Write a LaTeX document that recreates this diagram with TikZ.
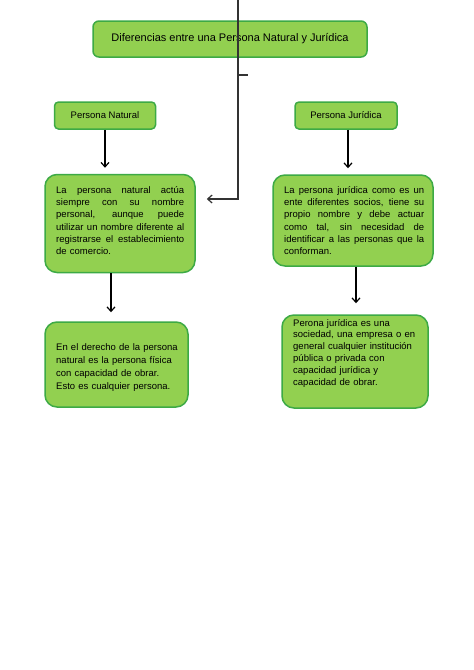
\documentclass[tikz,border=0pt]{standalone}
\usepackage{fontspec}
\setmainfont{Liberation Sans}
\usetikzlibrary{arrows.meta,calc}
\definecolor{boxfill}{HTML}{92D050}
\definecolor{boxline}{HTML}{3DAA45}
\definecolor{linegray}{HTML}{333333}
\newcommand{\jline}[2]{\leavevmode\hbox to #1{\spaceskip=0.278em plus 1fil\relax #2}}
\tikzset{
  box/.style={draw=boxline, fill=boxfill, line width=1.5pt, inner sep=0pt},
  bigbox/.style={box, rounded corners=12pt},
  smallbox/.style={box, rounded corners=4pt},
  txt/.style={inner sep=0pt, anchor=base west, align=left, text=black, font=\fontsize{9.5}{12.2}\selectfont},
  arr/.style={draw=black, line width=1.2pt, -{Straight Barb[length=4.5pt,width=8pt]}},
}
\begin{document}
\begin{tikzpicture}[x=1pt,y=-1pt]
\useasboundingbox (0,0) rectangle (474,670);
\fill[white] (0,0) rectangle (474,670);
% boxes
\node[box, rounded corners=6pt, minimum width=274pt, minimum height=36pt, font=\fontsize{11}{13}\selectfont] (title) at (230,39) {Diferencias entre una Persona Natural y Jurídica};
\node[smallbox, minimum width=101pt, minimum height=27pt, font=\fontsize{9.5}{12}\selectfont] (pn) at (105,115.5) {Persona Natural};
\node[smallbox, minimum width=102pt, minimum height=27pt, font=\fontsize{9.5}{12}\selectfont] (pj) at (346,115.5) {Persona Jurídica};
\node[bigbox, minimum width=150pt, minimum height=98pt] (l1) at (120,223.5) {};
\node[bigbox, minimum width=160pt, minimum height=91pt] (r1) at (353,220.5) {};
\node[bigbox, minimum width=143pt, minimum height=85pt] (l2) at (116.5,364.5) {};
\node[bigbox, minimum width=146pt, minimum height=93pt] (r2) at (355,361.5) {};
% texts
\node[txt, text width=128pt] (l1t) at (56,193.5) {%
\jline{128pt}{La persona natural actúa}\\
\jline{128pt}{siempre con su nombre}\\
\jline{128pt}{personal, aunque puede}\\
\jline{128pt}{utilizar un nombre diferente al}\\
\jline{128pt}{registrarse el establecimiento}\\
de comercio.};
\node[txt, text width=140pt] (r1t) at (284,193.5) {%
\jline{140pt}{La persona jurídica como es un}\\
\jline{140pt}{ente diferentes socios, tiene su}\\
\jline{140pt}{propio nombre y debe actuar}\\
\jline{140pt}{como tal, sin necesidad de}\\
\jline{140pt}{identificar a las personas que la}\\
conforman.};
\node[txt, text width=128pt, font=\fontsize{9.5}{13}\selectfont] (l2t) at (56,350.5) {%
En el derecho de la persona\\
natural es la persona física\\
con capacidad de obrar.\\
Esto es cualquier persona.};
\node[txt, text width=132pt, font=\fontsize{9.5}{11.9}\selectfont] (r2t) at (293,326) {%
Perona jurídica es una\\
sociedad, una empresa o en\\
general cualquier institución\\
pública o privada con\\
capacidad jurídica y\\
capacidad de obrar.};
% connectors
\coordinate (top) at (238,0);
\coordinate (bend) at (238,199);
\coordinate (tick) at (248,75);
\draw[linegray, line width=1.2pt] (top |- tick) -- (tick);
\draw[arr, draw=linegray, shorten >=11pt] (top) -- (bend) -- (bend -| l1.east);
\draw[arr, shorten >=6pt] (pn.south) -- (pn.south |- l1.north);
\draw[arr, shorten >=6pt] ([xshift=2pt]pj.south) -- ([xshift=-5pt]r1.north);
\draw[arr, shorten >=9pt] ([xshift=-9pt]l1.south) -- ([xshift=-5.5pt]l2.north);
\draw[arr, shorten >=11pt] ([xshift=3pt]r1.south) -- ([xshift=1pt]r2.north);
\end{tikzpicture}
\end{document}
